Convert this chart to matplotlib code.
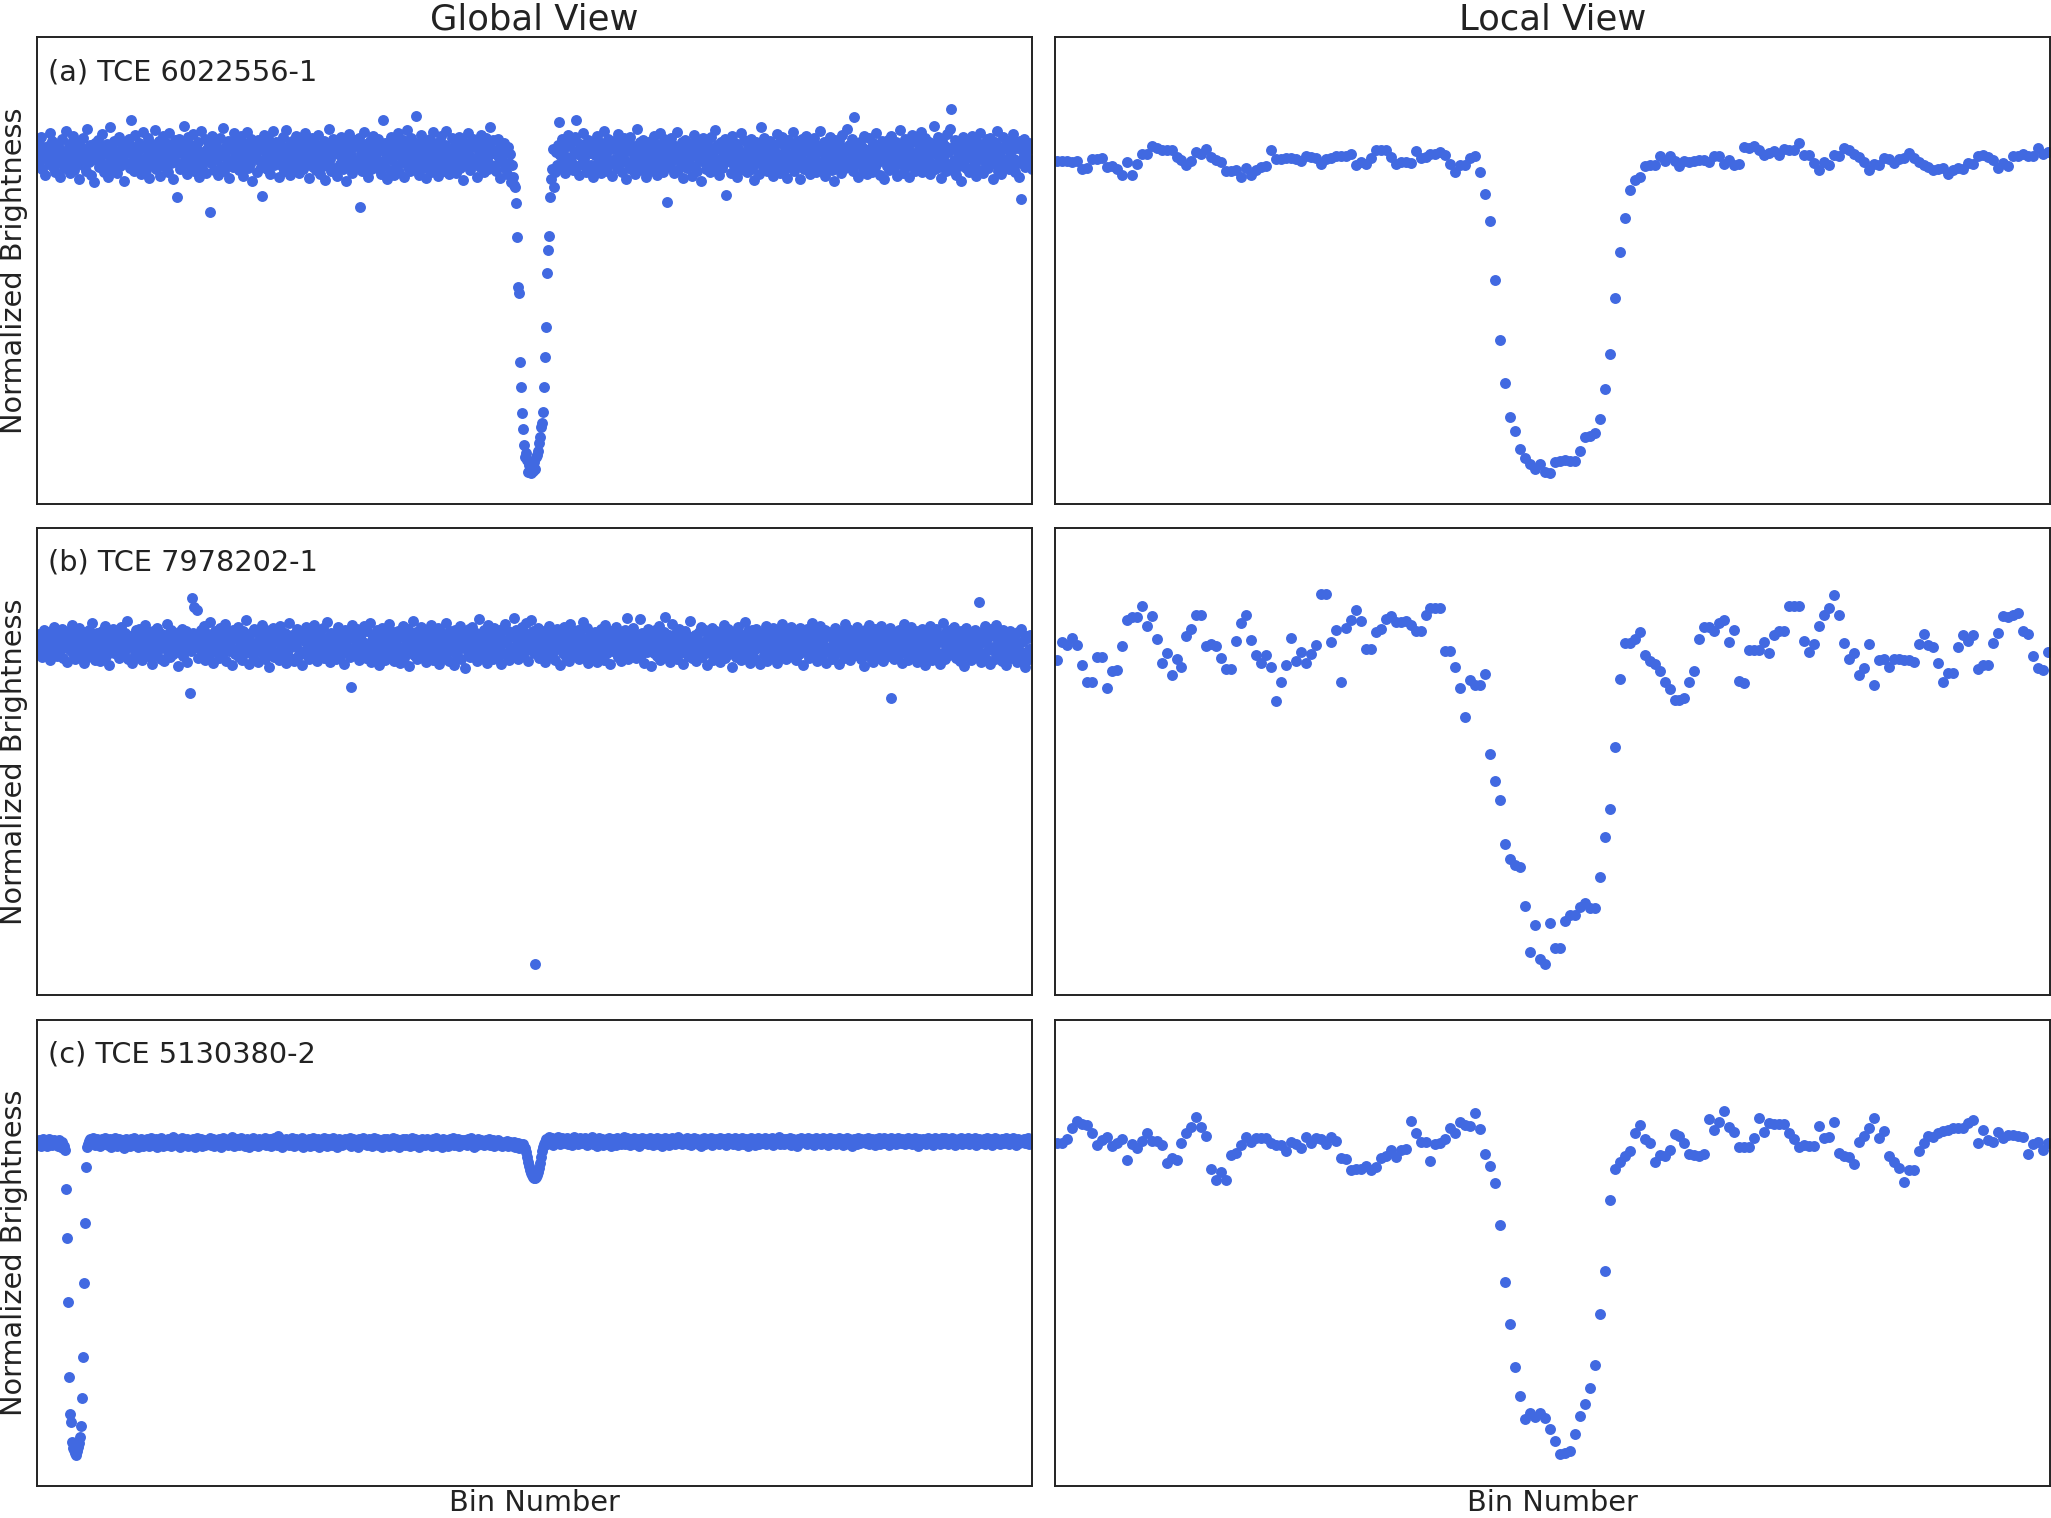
import numpy as np
import matplotlib
matplotlib.use("Agg")
import matplotlib.pyplot as plt

# ---------------- data (normalized brightness, arbitrary units) ----------------
titles = ["Global View", "Local View"]
panel_labels = ["(a) TCE 6022556-1", "(b) TCE 7978202-1", "(c) TCE 5130380-2"]
ylabel = "Normalized Brightness"
xlabel = "Bin Number"

# --- global view (a)
global_a_pre = [
    5,-8,14,-3,20,-12,2,9,-18,6,-1,11,-7,24,-4,16,-10,3,-15,8,
    -6,12,1,-20,7,18,-2,-11,4,26,-9,0,13,-16,6,-4,21,-13,9,2,
    15,-7,-22,3,10,-1,19,-9,6,-14,28,4,-5,12,-18,1,8,-25,14,-3,
    7,17,-10,0,-6,23,11,-15,3,-8,13,-20,5,30,-2,9,-12,16,-4,2,
    -16,6,20,-9,1,12,-3,-24,8,15,-7,4,18,-11,37,-5,10,-14,22,0,
    3,-9,14,-2,-17,9,25,-6,11,-13,1,19,-21,7,-4,13,-8,4,27,-12,
    8,-3,16,-19,5,10,-7,21,-1,-10,14,2,-15,24,6,-6,11,-22,3,17,
    -5,-40,9,18,-12,4,-8,13,31,-3,7,-17,20,1,-9,12,-2,23,-14,6,
    10,-7,15,-20,2,26,-11,5,-4,18,-16,8,0,13,-55,-6,21,3,-13,9,
    12,-2,-18,7,19,-9,4,29,-14,1,11,-6,16,-21,8,-3,14,-10,24,5,
    -8,16,2,-13,10,21,-5,-19,6,13,-1,25,-11,3,-7,18,-24,9,0,12,
    4,-15,17,-3,8,-10,-39,14,22,-6,1,-12,19,7,-17,11,-2,26,-8,3,
    15,-4,9,-20,13,2,-9,20,-14,6,27,-1,-7,12,-18,4,16,-11,8,-3,
    21,-6,3,-16,11,-2,17,-12,5,24,-8,0,14,-21,9,-5,19,-10,2,13,
    -13,7,22,-4,-17,10,1,-9,16,-23,4,12,-6,28,-2,-14,8,18,-11,5,
    9,-19,3,14,-7,20,-1,-12,11,6,-24,15,-4,23,-9,2,-16,10,-3,17,
    -10,12,-5,19,-50,4,-14,8,25,-2,13,-8,-20,6,16,-12,1,21,-6,9,
    3,-11,18,-4,10,-17,7,37,-8,14,-1,-22,11,5,-13,20,-3,9,-18,15,
    6,-9,24,-15,2,12,-5,17,-20,8,-2,27,-10,4,-14,11,19,-6,1,-12,
    14,41,-7,9,-18,5,22,-3,-11,16,0,-21,13,7,-8,18,-15,3,25,-4,
    -12,10,4,-19,15,-6,21,-1,8,-14,12,26,-9,3,-17,6,-2,19,-10,11,
    5,-16,13,-3,20,-11,1,16,-23,9,-5,14,-8,24,2,-13,10,-1,18,-7,
    -4,15,-20,8,3,-10,22,-6,12,-15,6,19,-2,-12,11,30,-8,4,17,-9,
    7,-14,2,18,-5,-21,12,-3,9,14,-11,5,-17,10,-6,3,-25,-8,-20,-28,
]
global_a_transit = [
    -30,-46,-80,-130,-136,-205,-230,-256,-272,-288,-300,-296,-303,-315,-308,-312,-316,-310,
    -314,-305,-312,-300,-298,-294,-286,-280,-270,-266,-255,-230,-200,-170,-116,-93,-79,
]
global_a_post = [
    -40,-22,-12,8,-30,-15,5,-8,12,35,2,-10,18,-5,9,-16,14,0,22,-7,
    11,-4,16,-13,3,20,37,-9,6,-18,13,1,-7,24,-2,10,-15,7,17,-11,
    4,-8,14,-20,9,2,-12,21,-5,15,-1,-16,11,6,26,-9,3,-14,18,-3,
    12,-6,-19,8,16,-2,10,-11,23,-7,4,13,-15,1,19,-4,-22,7,14,-9,
    20,-12,5,-3,11,-17,8,28,-1,-8,15,3,-13,17,-6,9,-20,12,2,-4,
    -14,16,6,-9,21,-2,13,-18,4,10,-7,24,-11,1,-15,18,-5,8,-45,14,
    3,-10,19,-4,12,-16,7,-1,25,-13,9,2,-8,15,-21,6,17,-3,-11,10,
    -6,13,1,-19,8,22,-9,4,-14,16,-2,11,-24,7,19,-5,3,-12,14,-8,
    9,-15,20,-1,5,-10,27,-7,12,-3,-18,8,15,-11,2,-6,18,-38,6,13,
    -4,11,-16,21,3,-9,14,-2,-20,9,6,-13,24,-7,1,17,-10,4,-15,12,
    7,-3,18,-12,10,-23,2,15,-6,13,-17,8,30,-1,-9,19,-5,11,-14,4,
    -8,16,-2,9,-19,12,5,-11,23,-4,14,-16,3,20,-7,-13,10,1,-21,17,
    2,-10,13,-5,25,-14,7,-1,16,-8,11,-22,4,18,-3,-12,9,21,-6,6,
    14,-17,3,10,-9,19,-2,-15,12,5,-7,26,-12,8,-4,15,-19,1,13,-10,
    -5,20,8,-13,2,-24,17,-1,11,-8,16,4,-16,22,-3,9,-11,6,28,-6,
    12,-9,-2,18,-14,40,5,-7,13,-20,1,15,-4,10,-12,21,-8,3,-17,7,
    19,-5,9,-15,14,-1,-10,24,-6,4,12,-18,8,16,-3,-22,11,2,-9,17,
    -13,6,21,-4,10,-11,3,15,-19,8,-2,27,-7,13,-16,1,18,-10,5,-6,
    9,-20,14,-3,22,-8,4,-14,17,2,-11,11,-5,25,-15,6,-1,19,-9,12,
    -2,15,-17,7,-7,13,31,-12,3,-6,20,-10,9,-21,16,1,-4,11,-14,23,
    5,-8,28,48,-13,10,-3,17,-18,6,14,-9,2,-24,12,20,-5,8,-11,3,
    16,-15,7,-1,21,-10,11,-6,-19,15,4,-13,24,-2,9,-16,13,0,-8,18,
    -11,6,19,-4,12,-22,3,15,-7,26,-14,10,1,-17,8,20,-3,-9,14,-5,
    11,-12,4,17,-8,23,-2,-15,9,13,-6,-20,16,-42,7,-1,18,-10,5,12,
    -7,14,-3,9,-12,
]

# --- global view (b)
global_b_pre = [
    4,-7,11,-2,8,-12,1,15,-5,-9,6,13,-3,-15,9,2,-8,18,-4,7,
    -11,5,12,-6,0,16,-13,3,-2,10,-17,8,14,-5,-1,20,-9,4,-14,11,
    2,-6,17,-10,7,-1,13,-18,5,9,-4,-12,15,1,-7,22,-3,10,-15,6,
    12,-9,3,-16,8,14,-2,-6,19,-11,4,7,-20,11,0,-5,16,-8,2,13,
    -3,9,-13,6,18,-7,1,-10,12,-4,24,-14,5,8,-1,-18,10,3,-9,15,
    7,-12,2,16,-5,11,-15,4,-8,20,-2,9,-11,13,1,-6,-19,14,6,-3,
    -10,17,5,-4,12,-14,8,-1,-16,10,3,21,-7,6,-12,15,-2,-9,11,4,
    9,-5,-21,13,2,-8,16,-11,7,-3,14,-17,4,10,-48,-6,47,12,38,-2,
    6,35,-13,8,-4,15,-9,1,19,-15,5,-2,11,-10,23,-6,3,-18,9,14,
    -7,12,0,-13,17,5,-10,8,-3,21,-16,2,13,-6,-1,10,-20,15,6,-9,
    11,-4,18,-12,3,7,-15,14,-1,-8,25,-5,9,-19,4,12,-3,-11,16,1,
    -6,13,-17,5,10,-2,20,-9,2,-14,15,6,-7,-22,11,-1,8,17,-12,4,
    14,-8,3,-15,19,-3,9,-10,1,12,-18,7,-5,22,-13,5,10,-1,-16,8,
    -2,16,-11,6,-6,13,-20,11,4,-9,18,-4,2,-14,9,15,-7,-1,20,-12,
    5,-16,10,-3,14,1,-9,17,-13,7,-2,23,-8,3,-17,12,6,-5,11,-10,
    -14,9,2,18,-6,-11,13,-1,8,-19,15,4,-7,10,-3,-12,-42,20,-4,6,
    12,-8,16,-2,-15,7,11,-10,3,19,-5,-13,14,0,-9,22,-17,5,9,-3,
    1,-12,15,8,-20,10,-4,17,-7,4,-15,12,6,-1,21,-11,2,-6,13,-16,
    9,5,-9,14,-3,-18,11,-2,19,-13,7,1,-8,16,-21,10,4,-5,24,-10,
    -4,13,-14,3,11,-7,18,-1,-12,8,15,-17,5,-3,10,-9,20,2,-15,12,
    7,-10,-2,17,-19,6,13,-5,9,-13,1,22,-8,4,-16,14,-1,11,-6,-20,
    15,3,-11,8,-4,19,-14,10,-1,6,-23,13,2,-7,16,-12,5,18,-3,9,
    -8,12,-16,4,26,-5,9,-13,1,15,-9,7,-18,20,-2,11,-6,3,-14,17,
    6,-4,13,-12,10,-1,-19,16,5,-8,21,-10,2,14,-15,8,-3,12,-7,27,
    -9,15,1,-14,9,4,-6,18,-11,3,12,22,-5,-16,10,7,25,-2,14,-8,
]
global_b_transit = [-319]
global_b_post = [
    11,-6,3,17,-13,8,-1,14,-9,5,-17,10,2,-4,19,-11,6,13,-7,1,
    -15,9,16,-3,7,-20,12,4,-8,18,-2,-12,11,6,-16,21,-5,3,-10,14,
    8,-9,-1,15,-14,10,2,-6,23,-11,5,-3,17,-18,9,1,-7,12,-13,6,
    13,-4,-17,9,4,-10,16,-2,7,-15,20,3,-8,11,-5,-19,14,1,-3,10,
    -7,18,5,-12,-1,13,-16,8,2,-9,15,-4,27,-14,6,11,-6,-2,17,-11,
    3,-13,10,7,-5,26,-10,12,-1,-18,9,4,-7,16,-3,14,-21,5,11,-8,
    15,-2,-11,6,19,-15,3,8,-6,13,28,-12,1,-4,10,-17,7,21,-9,2,
    -5,12,-14,4,16,-8,-1,11,-19,7,14,-3,9,-11,2,24,-6,-13,8,5,
    10,-16,6,-2,13,-7,18,-12,3,-4,15,1,-20,9,12,-8,-1,17,-15,4,
    -3,14,-10,8,2,-17,11,5,-6,20,-13,7,-2,16,-9,3,13,-22,6,-5,
    12,-1,-12,9,18,-6,4,-15,10,1,-8,23,-4,-11,14,7,-18,2,15,-7,
    5,-14,16,-3,8,11,-19,6,-1,13,-10,3,19,-16,9,-5,12,-2,-13,17,
    -8,4,10,-18,14,-1,7,-11,21,-6,2,15,-14,5,-3,11,-9,18,1,-12,
    9,-4,-15,13,6,-9,17,-2,3,-20,12,8,-7,16,-1,-13,10,4,22,-10,
    2,14,-6,-16,11,-3,19,-12,7,1,-8,15,-18,9,13,-5,-2,12,-14,6,
    -11,17,3,-7,10,-19,5,14,-4,8,-13,21,-1,-9,16,2,-15,11,7,-6,
    13,-2,-10,18,-5,9,1,-14,12,4,-21,15,-8,6,-3,20,-12,10,-1,-17,
    8,16,-6,3,-13,11,-9,19,-2,-16,14,5,-7,10,-11,2,17,-53,-4,12,
    -14,7,13,-1,-10,15,-5,9,-18,4,21,-8,1,12,-15,6,-3,18,-12,10,
    3,-9,14,-17,8,-2,11,-13,16,5,-6,-20,13,1,9,-11,19,-4,-15,7,
    12,-5,-1,16,-12,4,10,-19,7,-8,22,2,-14,13,-3,8,-10,15,-6,1,
    -9,18,6,-13,2,11,-7,-16,14,-2,9,-21,5,17,-11,3,-4,12,-15,10,
    4,-12,15,-6,8,-1,43,-10,-17,13,3,-8,19,-14,6,11,-3,-19,16,-5,
    -2,9,-14,20,-7,5,12,-11,1,-16,15,-4,8,-20,10,3,-9,14,-13,-1,
    6,-10,11,-3,-17,13,-6,2,16,-12,4,-8,-22,9,-15,7,-4,10,-11,-3,
]

# --- global view (c)
global_c_pre = [3,0,5,2,-1,4,6,1,3,5,-1,2,6,1,4,0,3,5,1,4,2,-1,5,1,-2,3,-3,-1,-5]
global_c_transit = [
    -44,-93,-157,-232,-269,-277,-297,-303,-305,-308,-310,-306,-302,-298,-292,-281,-253,-212,
    -138,-78,-22,
]
global_c_mid = [
    -2,1,4,6,2,5,7,3,0,4,6,2,5,-1,3,6,1,4,7,2,
    5,0,3,6,-2,4,1,5,7,2,-1,4,6,3,0,5,2,-3,4,6,
    1,5,3,-1,6,2,4,7,0,3,5,-2,4,1,6,3,-1,5,2,4,
    6,2,-1,4,7,3,0,5,2,6,-2,3,5,1,4,7,2,-1,3,5,
    0,4,6,2,5,-1,3,8,1,4,6,0,3,5,-2,4,7,2,1,5,
    3,6,-1,5,2,4,0,6,3,-2,5,7,1,4,2,6,-1,3,5,0,
    4,1,5,3,7,0,2,6,-1,4,3,5,1,6,2,-2,4,7,3,1,
    5,3,0,6,2,4,8,1,-1,5,3,6,2,0,4,7,1,3,5,-1,
    2,6,4,-2,5,1,3,7,0,4,2,5,-1,6,3,1,5,2,4,7,
    0,3,5,2,6,-1,4,1,7,3,5,0,9,4,2,6,-2,3,5,1,
    6,2,4,0,5,3,7,1,-1,4,6,2,5,3,0,4,7,-2,3,5,
    1,5,3,6,-1,4,2,7,0,3,5,1,6,-2,4,2,5,3,7,0,
    4,-1,6,2,5,3,0,7,4,1,5,-2,3,6,2,4,0,5,3,6,
    2,5,1,4,7,-1,3,6,0,5,2,4,-2,6,3,1,5,7,2,4,
    5,0,3,6,2,4,-1,5,7,1,3,6,0,4,2,5,-2,3,6,1,
    3,6,2,-1,5,4,1,7,3,0,6,2,4,-2,5,3,1,6,4,0,
    6,1,4,3,-1,5,2,7,0,4,6,3,1,5,-2,4,2,6,3,5,
    0,4,6,2,5,1,3,-1,6,4,2,7,0,3,5,1,4,-2,6,3,
    4,2,5,-1,3,6,1,4,7,0,5,2,3,6,-1,4,2,5,1,3,
    5,3,0,6,2,4,7,1,3,-2,5,4,0,6,2,3,5,1,4,0,
    2,5,3,1,6,0,4,2,5,-1,3,4,1,5,2,0,3,-1,2,0,
    3,1,4,-1,2,3,0,2,-1,3,-2,1,0,2,-3,1,0,-2,1,-3,
]
global_c_transit2 = [-3,-7,-12,-17,-21,-25,-28,-30,-32,-33,-33,-32,-30,-27,-23,-18,-12,-6,-2,1]
global_c_post = [
    3,6,1,5,8,2,4,7,0,5,3,6,2,8,4,1,5,7,3,6,
    2,5,7,1,4,6,3,0,5,8,2,4,6,1,3,7,5,2,4,6,
    7,3,0,5,6,2,4,8,1,3,6,4,-1,5,7,2,3,6,0,4,
    5,1,6,3,7,2,-1,4,6,3,5,0,7,2,4,6,1,5,3,8,
    1,4,7,2,5,0,6,3,4,7,1,5,2,6,-1,4,3,7,5,2,
    6,3,5,1,4,7,2,5,0,6,3,4,7,1,5,2,6,3,-1,4,
    4,7,2,6,3,0,5,4,7,2,6,1,3,5,8,2,4,6,1,5,
    2,5,3,7,1,4,6,0,5,3,7,2,4,6,1,5,3,-1,6,4,
    7,1,4,5,2,6,3,7,0,4,5,2,6,3,5,1,7,4,2,6,
    3,6,0,4,7,2,5,3,6,1,4,7,2,5,0,6,3,4,7,1,
    5,2,6,3,-1,5,4,7,2,6,3,0,5,4,7,1,6,3,5,2,
    4,7,1,5,3,6,2,4,7,0,5,3,6,2,4,8,1,5,3,6,
    1,4,6,2,5,3,7,0,4,6,2,5,3,-1,6,4,2,7,5,3,
    6,3,5,1,7,4,2,6,3,5,0,4,7,2,5,3,6,1,4,7,
    2,5,3,6,0,4,7,3,5,2,6,4,1,5,3,7,2,4,6,0,
    5,1,4,7,3,6,2,5,-1,4,6,3,5,1,7,4,2,6,3,5,
    3,6,2,4,7,1,5,3,6,2,4,0,6,5,3,7,1,4,6,2,
    7,2,5,3,6,0,4,7,2,5,3,6,1,4,7,3,5,2,6,4,
    4,1,6,5,2,7,3,4,6,1,5,3,7,2,4,-1,6,3,5,2,
    6,3,4,1,5,7,2,6,3,4,0,5,7,2,6,3,4,1,5,7,
    2,5,7,3,6,1,4,5,2,7,3,6,0,4,5,2,6,3,7,1,
    5,3,6,2,4,7,1,5,3,6,2,4,7,0,5,3,6,2,4,5,
    3,6,1,5,7,2,4,6,3,0,5,4,7,2,6,3,5,1,4,6,
    6,2,4,7,3,5,1,6,4,2,7,3,5,0,4,6,2,5,3,4,
    4,6,2,5,3,7,1,4,6,3,
]

# --- local views (201-bin style, arbitrary units)
local_a = [
    -2,-2,-2,-4,-2,-27,-23,4,5,8,-20,-16,-25,-45,-6,-44,-11,18,20,42,
    36,32,30,30,10,2,-15,-2,25,18,35,10,2,-6,-32,-33,-30,-50,-23,-44,
    -30,-20,-18,30,5,5,8,8,4,-2,12,10,7,-10,4,8,14,13,13,18,
    -15,-6,-10,8,30,32,30,10,-10,-5,-6,-8,28,7,10,18,18,25,15,-10,
    -35,-13,-13,8,14,-34,-100,-183,-357,-538,-668,-768,-812,-865,-893,-910,-925,-910,-933,-937,
    -905,-900,-898,-900,-902,-870,-828,-825,-818,-775,-685,-580,-412,-275,-172,-90,-60,-50,-18,-15,
    -15,13,-2,12,-2,-18,-2,-5,-3,0,0,-5,14,13,-10,0,-15,-10,40,38,
    43,30,15,23,27,15,35,30,30,52,15,15,-8,-28,-5,-15,15,13,37,30,
    20,10,-5,-28,-10,-13,8,5,-8,3,8,22,8,-5,-15,-20,-30,-25,-22,-40,
    -28,-22,-25,-8,-12,13,15,10,0,-22,-8,-16,12,12,20,13,13,37,20,25,
]
local_b = [
    -27,27,18,40,20,-42,-93,-93,-18,-18,-110,-60,-57,15,94,102,102,135,75,106,
    37,-34,-6,-71,-22,-47,45,66,110,110,16,22,15,-20,-52,-52,30,84,110,34,
    -12,-35,-12,-46,-148,-91,-40,39,-30,-2,-35,-8,19,173,173,27,63,-93,70,93,
    123,92,7,7,58,67,97,105,88,87,90,80,62,62,108,130,130,130,1,0,
    -48,-110,-196,-86,-100,-100,-68,-307,-387,-444,-576,-622,-640,-647,-764,-900,-819,-922,-937,-815,
    -888,-888,-807,-790,-790,-765,-755,-768,-770,-676,-557,-472,-288,-83,24,25,37,59,-11,-30,
    -37,-60,-93,-113,-146,-146,-141,-92,-60,37,72,73,62,85,95,28,63,-90,-96,4,
    4,4,28,-5,50,62,62,136,136,136,32,-3,22,75,110,130,170,110,24,-23,
    -5,-72,-50,22,-102,-26,-23,-48,-23,-23,-26,-26,-31,22,52,18,14,-35,-93,-65,
    -65,12,48,30,50,-53,-42,-40,25,54,107,102,108,114,62,52,-14,-50,-55,-3,
]
local_c = [
    -2,-2,10,43,63,54,52,27,-10,6,14,-12,-3,10,-53,-6,-18,4,28,4,
    4,-10,-62,-47,-53,-2,29,47,76,45,18,-80,-113,-90,-113,-38,-34,-8,14,0,
    12,12,12,-2,-8,-10,-28,0,-5,-18,17,-2,12,8,-6,17,4,-47,-50,-85,
    -82,-80,-72,-85,-75,-48,-42,-23,-45,-23,-22,63,29,0,0,-57,-6,-3,10,42,
    27,60,52,50,89,40,-36,-72,-123,-248,-421,-547,-675,-763,-833,-815,-825,-813,-830,-862,
    -897,-937,-935,-928,-878,-822,-788,-738,-668,-515,-386,-174,-82,-60,-42,-26,29,51,8,-4,
    -59,-40,-42,-25,25,20,-2,-36,-40,-43,-35,70,37,61,94,47,31,-16,-16,-16,
    12,74,31,57,55,55,55,27,8,-15,-10,-13,-13,49,12,17,62,-33,-42,-45,
    -67,0,20,44,73,13,35,-42,-60,-78,-120,-83,-83,-26,-2,20,15,27,34,37,
    44,42,42,58,67,-2,36,5,0,30,13,22,23,20,17,-36,-6,0,-23,-2,
]

global_series = [
    global_a_pre + global_a_transit + global_a_post,
    global_b_pre + global_b_transit + global_b_post,
    global_c_pre + global_c_transit + global_c_mid + global_c_transit2 + global_c_post,
]
local_series = [local_a, local_b, local_c]

# ---------------- style / layout ----------------
W, H = 2051, 1518
DOT = "#4169E1"
TXT = "#222222"
DOT_S = 62
global_ylims = [(-347, 120), (-350, 117), (-341, 125)]
local_ylims = [(-1030, 370), (-1030, 370), (-1033, 367)]
rows_px = [(37, 504), (528, 995), (1020, 1486)]
cols_px = [(37, 1032), (1055, 2050)]

plt.rcParams["font.family"] = ["DejaVu Sans"]
TITLE_FS = 25.5
LABEL_FS = 20.7

fig = plt.figure(figsize=(W / 100, H / 100), dpi=100)


def make_ax(col, row):
    x0, x1 = cols_px[col]
    y0, y1 = rows_px[row]
    ax = fig.add_axes([x0 / W, 1 - y1 / H, (x1 - x0) / W, (y1 - y0) / H])
    ax.set_xticks([])
    ax.set_yticks([])
    for sp in ax.spines.values():
        sp.set_linewidth(1.4)
        sp.set_color(TXT)
    return ax


for r in range(3):
    g = np.asarray(global_series[r], dtype=float)
    ax = make_ax(0, r)
    ax.scatter(np.arange(len(g)), g, s=DOT_S, c=DOT, linewidths=0)
    ax.set_xlim(0, len(g) - 1)
    ax.set_ylim(*global_ylims[r])
    ax.text(0.0115, 1 - 43 / 467, panel_labels[r], transform=ax.transAxes,
            ha="left", va="baseline", fontsize=LABEL_FS, color=TXT)
    y0, y1 = rows_px[r]
    fig.text(14 / W, 1 - (y0 + y1) / 2 / H, ylabel, rotation=90, ha="center", va="center",
             fontsize=LABEL_FS, color=TXT)

    l = np.asarray(local_series[r], dtype=float)
    ax2 = make_ax(1, r)
    ax2.scatter(np.arange(len(l)), l, s=DOT_S, c=DOT, linewidths=0)
    ax2.set_xlim(-0.4, len(l) - 0.6)
    ax2.set_ylim(*local_ylims[r])

for c in range(2):
    x0, x1 = cols_px[c]
    fig.text((x0 + x1) / 2 / W, 1 - 30 / H, titles[c], ha="center", va="baseline",
             fontsize=TITLE_FS, color=TXT)
    fig.text((x0 + x1) / 2 / W, 1 - 1511 / H, xlabel, ha="center", va="baseline",
             fontsize=LABEL_FS, color=TXT)

fig.savefig("out.png", dpi=100)
